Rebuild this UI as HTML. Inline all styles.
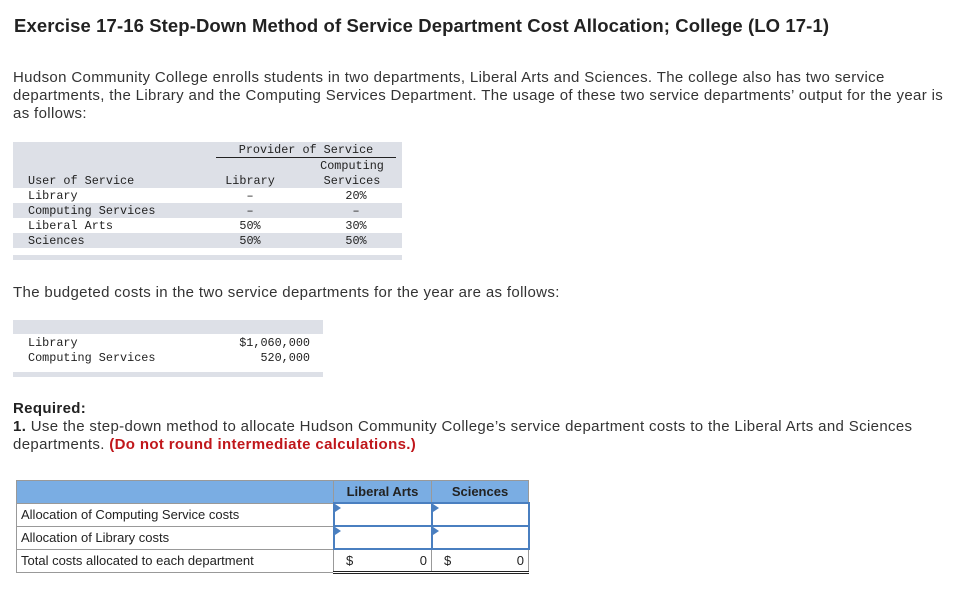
<!DOCTYPE html>
<html><head><meta charset="utf-8"><style>
body{margin:0;width:972px;height:593px;background:#fff;font-family:"Liberation Sans",sans-serif;color:#333;position:relative;overflow:hidden}
.a{position:absolute;white-space:nowrap}
h1{position:absolute;left:14px;top:15px;margin:0;font-size:18.5px;font-weight:bold;color:#222;letter-spacing:0.1px}
.p{font-size:15px;line-height:18px;color:#333;letter-spacing:0.35px}
.m{font-family:"Liberation Mono",monospace;font-size:11.8px;color:#222}
.bg{position:absolute;background:#dde0e7}
.c{text-align:center}
.r{text-align:right}
table.ans{position:absolute;left:16px;top:480px;border-collapse:collapse;font-size:13px;color:#222}
table.ans td{border:1px solid #999;height:21px;padding:0 4px}
.in{border:2px solid #4a7fc0!important;position:relative}
.in::before{content:"";position:absolute;left:0;top:0;border-left:6px solid #4a7fc0;border-top:4px solid transparent;border-bottom:4px solid transparent;top:0}
</style></head><body>
<h1>Exercise 17-16 Step-Down Method of Service Department Cost Allocation; College (LO 17-1)</h1>
<div class="a p" style="left:13px;top:69px">Hudson Community College enrolls students in two departments, Liberal Arts and Sciences. The college also has two service<br>departments, the Library and the Computing Services Department. The usage of these two service departments’ output for the year is<br>as follows:</div>

<div>
<div class="bg" style="left:13px;top:142px;width:389px;height:46px"></div>
<div class="bg" style="left:13px;top:203px;width:389px;height:15px"></div>
<div class="bg" style="left:13px;top:233px;width:389px;height:15px"></div>
<div class="bg" style="left:13px;top:255px;width:389px;height:5px"></div>
<div class="a m c" style="left:216px;top:143px;width:180px">Provider of Service</div>
<div class="a" style="left:216px;top:157px;width:180px;border-top:1px solid #222"></div>
<div class="a m c" style="left:302px;top:159px;width:100px;line-height:15px">Computing<br>Services</div>
<div class="a m" style="left:28px;top:174px">User of Service</div>
<div class="a m c" style="left:200px;top:174px;width:100px">Library</div>
<div class="a m" style="left:28px;top:189px;line-height:15px">Library<br>Computing Services<br>Liberal Arts<br>Sciences</div>
<div class="a m c" style="left:200px;top:189px;width:100px;line-height:15px">–<br>–<br>50%<br>50%</div>
<div class="a m c" style="left:306px;top:189px;width:100px;line-height:15px">20%<br>–<br>30%<br>50%</div>
</div>

<div class="a p" style="left:13px;top:284px">The budgeted costs in the two service departments for the year are as follows:</div>

<div>
<div class="bg" style="left:13px;top:320px;width:310px;height:14px"></div>
<div class="bg" style="left:13px;top:372px;width:310px;height:5px"></div>
<div class="a m" style="left:28px;top:336px;line-height:15px">Library<br>Computing Services</div>
<div class="a m r" style="left:200px;top:336px;width:110px;line-height:15px">$1,060,000<br>520,000</div>
</div>

<div class="a p" style="left:13px;top:400px"><b style="color:#222">Required:</b><br><b style="color:#222">1.</b> Use the step-down method to allocate Hudson Community College’s service department costs to the Liberal Arts and Sciences<br>departments. <b style="color:#c0171b">(Do not round intermediate calculations.)</b></div>

<table class="ans">
<tr style="background:#7aade3"><td style="width:308px"></td><td class="c" style="width:89px;font-weight:bold">Liberal Arts</td><td class="c" style="width:88px;font-weight:bold">Sciences</td></tr>
<tr><td>Allocation of Computing Service costs</td><td class="in"></td><td class="in"></td></tr>
<tr><td>Allocation of Library costs</td><td class="in"></td><td class="in"></td></tr>
<tr><td>Total costs allocated to each department</td><td style="border-bottom:3px double #222;border-top:1px solid #222"><span style="margin-left:8px">$</span><span style="float:right">0</span></td><td style="border-bottom:3px double #222;border-top:1px solid #222"><span style="margin-left:8px">$</span><span style="float:right">0</span></td></tr>
</table>
</body></html>
